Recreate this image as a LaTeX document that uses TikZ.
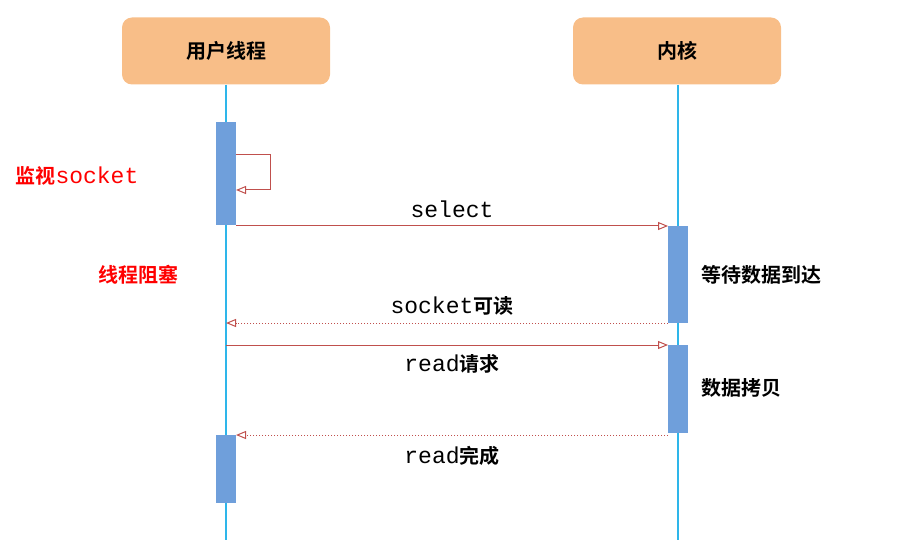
\documentclass[tikz,border=0pt]{standalone}
\usepackage{fontspec}
\setmonofont{Liberation Mono}
\newfontfamily\cjk{Noto Sans CJK SC}[BoldFont={Noto Sans CJK SC Bold}]
\usetikzlibrary{arrows.meta}
\definecolor{peach}{HTML}{F8BE88}
\definecolor{bar}{HTML}{6F9FDB}
\definecolor{life}{HTML}{2EB6EA}
\definecolor{arr}{HTML}{C0504D}
\begin{document}
\begin{tikzpicture}[x=1pt,y=-1pt,
  head/.style={draw=none,fill=peach,rounded corners=10pt,minimum width=208pt,minimum height=67pt,font=\cjk\bfseries\fontsize{20}{24}\selectfont},
  bar/.style={fill=bar,draw=none},
  msg/.style={draw=arr,line width=1pt,-{Triangle[length=10pt,width=8pt,fill=white]}},
  ret/.style={draw=arr,line width=1pt,dotted,-{Triangle[length=10pt,width=8pt,fill=white]}},
  lbl/.style={font=\fontsize{23}{26}\selectfont},
  cn/.style={font=\cjk\bfseries\fontsize{20}{24}\selectfont},
  red/.style={cn,text=red}]
\useasboundingbox (0,0) rectangle (912,553);
\node[head] (u) at (226,51) {用户线程};
\node[head] (k) at (677,51) {内核};
\coordinate (ue) at (226,540);
\coordinate (ke) at (678,540);
\draw[life,line width=1.2pt] (u.south) -- (ue);
\draw[life,line width=1.2pt] (678,85) -- (ke);
\fill[bar] (216,122) rectangle (236,225);
\fill[bar] (216,435) rectangle (236,503);
\fill[bar] (668,226) rectangle (688,323);
\fill[bar] (668,345) rectangle (688,433);
\coordinate (s1) at (236,155); \coordinate (s2) at (236,190);
\draw[msg] (s1) -- (270,155) -- (270,190) -- (s2);
\node[red,anchor=west] (m) at (12,176) {监视\fontsize{23}{26}\selectfont\ttfamily\mdseries socket};
\coordinate (a1) at (236,226); \coordinate (a2) at (668,226);
\draw[msg] (a1) -- (a2);
\node[lbl] (l1) at (452,209) {\ttfamily select};
\node[red] (b) at (138,275) {线程阻塞};
\node[cn,anchor=west] (w) at (698,275) {等待数据到达};
\coordinate (r1) at (668,323); \coordinate (r2) at (226,323);
\draw[ret] (r1) -- (r2);
\node[lbl] (l2) at (452,306) {\ttfamily socket\cjk\bfseries\fontsize{20}{24}\selectfont 可读};
\coordinate (q1) at (226,345); \coordinate (q2) at (668,345);
\draw[msg] (q1) -- (q2);
\node[lbl] (l3) at (452,364) {\ttfamily read\cjk\bfseries\fontsize{20}{24}\selectfont 请求};
\node[cn,anchor=west] (c) at (698,388) {数据拷贝};
\coordinate (d1) at (668,435); \coordinate (d2) at (236,435);
\draw[ret] (d1) -- (d2);
\node[lbl] (l4) at (452,456) {\ttfamily read\cjk\bfseries\fontsize{20}{24}\selectfont 完成};
\end{tikzpicture}
\end{document}
